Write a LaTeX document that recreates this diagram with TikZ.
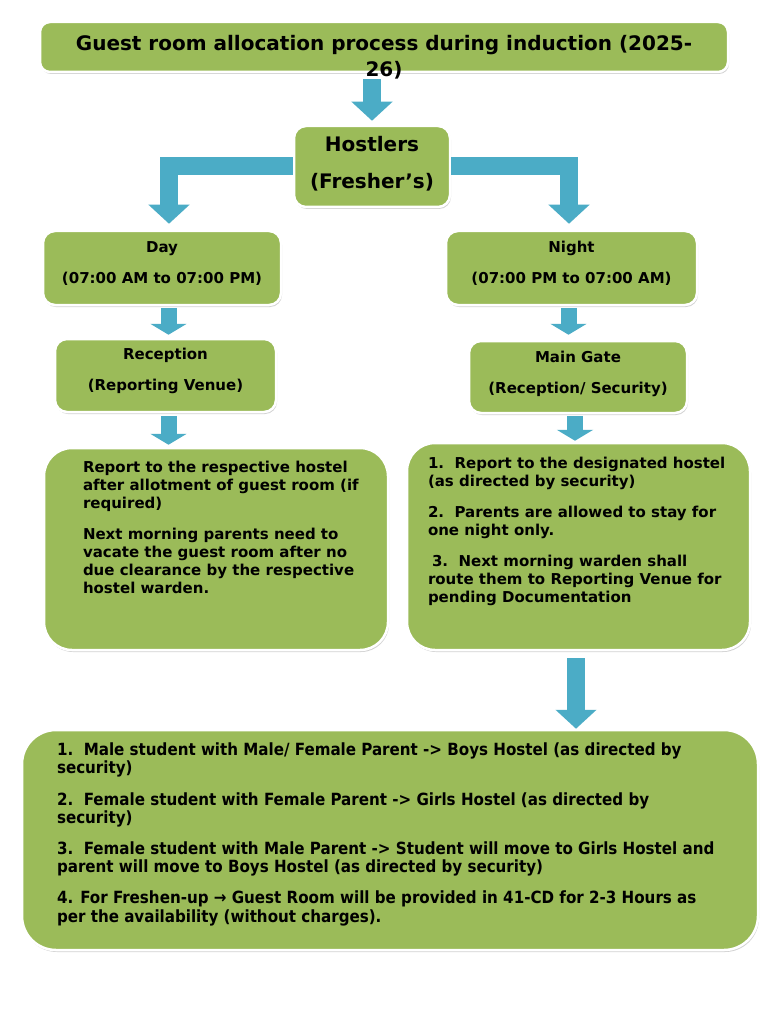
\documentclass[tikz,border=0pt]{standalone}
\usepackage{fontspec}
\setmainfont{DejaVu Sans}
\newfontfamily\condfont{DejaVu Sans Condensed}
\usetikzlibrary{positioning,arrows.meta,shadows}
\definecolor{boxgreen}{HTML}{9BBB59}
\definecolor{flowblue}{HTML}{4BACC6}

\begin{document}
\begin{tikzpicture}[x=1pt, y=-1pt]
    \tikzstyle{box} = [draw=white, line width=2.5pt, fill=boxgreen, rounded corners=12pt, align=center, inner sep=0pt, font=\bfseries, drop shadow={shadow xshift=1pt, shadow yshift=-2pt, opacity=0.35}]
    \tikzstyle{flow} = [draw=flowblue, line width=16pt, -{Triangle[width=36pt, length=11pt]}]
    \tikzstyle{bigflow} = [flow, line width=18pt, -{Triangle[width=40pt, length=19pt]}]

    \useasboundingbox (0,0) rectangle (768,1024);
    \fill[white] (0,0) rectangle (768,1024);

    \node[box, rounded corners=10pt, minimum width=688pt, minimum height=50pt, text depth=9pt, font=\bfseries\fontsize{20}{23}\selectfont,
        label={[font=\bfseries\fontsize{20}{23}\selectfont, anchor=north, inner sep=0pt, yshift=12pt]south:26)}] (title) at (384,47) {Guest room allocation process during induction (2025-};
    \node[box, minimum width=156pt, minimum height=81pt, text depth=8pt, font=\bfseries\fontsize{20}{37}\selectfont] (host) at (372,166.5) {Hostlers\\(Fresher’s)};

    \node[box, minimum width=238pt, minimum height=74pt, text depth=10.5pt, font=\bfseries\fontsize{15}{31}\selectfont] (day) at (162,268) {Day\\(07:00 AM to 07:00 PM)};
    \node[box, minimum width=251pt, minimum height=74pt, text depth=10.5pt, font=\bfseries\fontsize{15}{31}\selectfont] (night) at (571.5,268) {Night\\(07:00 PM to 07:00 AM)};
    \node[box, minimum width=221pt, minimum height=73pt, text depth=11.5pt, font=\bfseries\fontsize{15}{31}\selectfont] (recep) at (165.5,375.5) {Reception\\(Reporting Venue)};
    \node[box, minimum width=218pt, minimum height=72pt, text depth=8.5pt, font=\bfseries\fontsize{15}{31}\selectfont] (gate) at (578,377) {Main Gate\\(Reception/ Security)};

    \node[box, rounded corners=28pt, font=\bfseries\fontsize{15}{18}\selectfont] (dayinfo) at (216,549) {\parbox[c][202pt][t]{344pt}{\raggedright\leftskip=39pt
        \vspace*{13pt}Report to the respective hostel\\after allotment of guest room (if\\required)\\[13pt]Next morning parents need to\\vacate the guest room after no\\due clearance by the respective\\hostel warden.}};
    \node[box, rounded corners=28pt, font=\bfseries\fontsize{15}{18}\selectfont] (nightinfo) at (578.5,546.5) {\parbox[c][207pt][t]{343pt}{\raggedright\leftskip=21pt
        \vspace*{14pt}1.\ \ Report to the designated hostel\\(as directed by security)\\[13pt]2.\ \ Parents are allowed to stay for\\one night only.\\[13pt]\hspace*{4pt}3.\ \ Next morning warden shall\\route them to Reporting Venue for\\pending Documentation}};
    \node[box, rounded corners=34pt, font=\condfont\bfseries\fontsize{16.8}{18.2}\selectfont] (bottom) at (390,840) {\parbox[c][220pt][t]{736pt}{\raggedright\leftskip=35pt
        \vspace*{13pt}1.\ \ Male student with Male/ Female Parent -> Boys Hostel (as directed by\\security)\\[13pt]2.\ \ Female student with Female Parent -> Girls Hostel (as directed by\\security)\\[13pt]3.\ \ Female student with Male Parent -> Student will move to Girls Hostel and\\parent will move to Boys Hostel (as directed by security)\\[13pt]4. For Freshen-up → Guest Room will be provided in 41-CD for 2-3 Hours as\\per the availability (without charges).}};

    \draw[bigflow, shorten <=6pt, shorten >=4pt] (host.north |- title.south) -- (host.north);
    \draw[bigflow, shorten >=6pt] (host.west) -| ([xshift=7pt]day.north);
    \draw[bigflow, shorten >=6pt] (host.east) -| ([xshift=-2.5pt]night.north);
    \draw[flow, shorten <=2pt, shorten >=3pt] ([xshift=3pt]recep.north |- day.south) -- ([xshift=3pt]recep.north);
    \draw[flow, shorten <=3pt, shorten >=2pt] ([xshift=3pt]recep.south) -- ([xshift=3pt]recep.south |- dayinfo.north);
    \draw[flow, shorten <=2pt, shorten >=5pt] ([xshift=-9.5pt]gate.north |- night.south) -- ([xshift=-9.5pt]gate.north);
    \draw[flow, shorten <=2pt, shorten >=1pt] ([xshift=-3pt]gate.south) -- ([xshift=-3pt]gate.south |- nightinfo.north);
    \draw[bigflow, shorten <=7pt] ([xshift=-2.5pt]nightinfo.south) -- ([xshift=-2.5pt]nightinfo.south |- bottom.north);
\end{tikzpicture}
\end{document}
